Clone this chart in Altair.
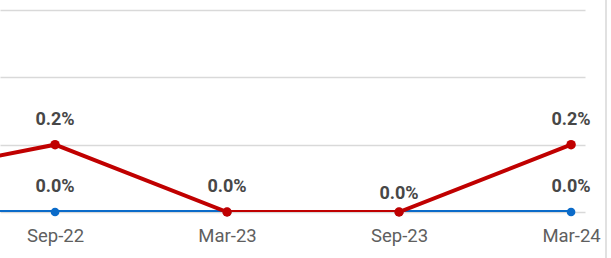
import altair as alt
import pandas as pd

periods = ["Mar-22", "Sep-22", "Mar-23", "Sep-23", "Mar-24"]
red_values = [0.1, 0.2, 0.0, 0.0, 0.2]
blue_values = [0.0, 0.0, 0.0, 0.0, 0.0]

RED = "#c00000"
BLUE = "#0b6bc9"

rows = []
for i, p in enumerate(periods):
    rows.append({"idx": i, "period": p, "series": "blue", "value": blue_values[i]})
for i, p in enumerate(periods):
    rows.append({"idx": i, "period": p, "series": "red", "value": red_values[i]})
df = pd.DataFrame(rows)
df["label"] = df["value"].map(lambda v: f"{v:.1f}%")

label_array = "[" + ",".join(f"'{p}'" for p in periods) + "]"

x = alt.X(
    "idx:Q",
    scale=alt.Scale(domain=[0.68, 4.081], nice=False, zero=False),
    axis=alt.Axis(
        values=[1, 2, 3, 4],
        labelExpr=f"{label_array}[datum.value]",
        title=None, grid=False, ticks=False, domain=False,
        labelFont="Roboto", labelFontSize=18.5, labelColor="#5f5f5f",
        labelPadding=14,
    ),
)
y = alt.Y(
    "value:Q",
    scale=alt.Scale(domain=[0, 0.6], nice=False),
    axis=alt.Axis(
        values=[0, 0.2, 0.4, 0.6], labels=False, ticks=False, domain=False,
        title=None, grid=True, gridColor="#d9d9d9", gridWidth=1.3,
    ),
)

base = alt.Chart(df)

blue_line = base.transform_filter("datum.series == 'blue'").mark_line(
    color=BLUE, strokeWidth=4, clip=True
).encode(x=x, y=y)
blue_pts = base.transform_filter("datum.series == 'blue'").mark_circle(
    color=BLUE, size=75, opacity=1
).encode(x=x, y=y)
red_line = base.transform_filter("datum.series == 'red'").mark_line(
    color=RED, strokeWidth=4, clip=True
).encode(x=x, y=y)
red_pts = base.transform_filter("datum.series == 'red'").mark_circle(
    color=RED, size=90, opacity=1
).encode(x=x, y=y)

text_main = base.transform_filter(
    "datum.idx > 0 && !(datum.series == 'red' && datum.period == 'Mar-23') && datum.period != 'Sep-23'"
).mark_text(
    font="Roboto", fontSize=18, fontWeight="bold", color="#474747", dy=-25
).encode(x=x, y=y, text="label:N")
text_low = base.transform_filter(
    "datum.series == 'red' && datum.period == 'Sep-23'"
).mark_text(
    font="Roboto", fontSize=18, fontWeight="bold", color="#474747", dy=-18
).encode(x=x, y=y, text="label:N")

edge = alt.Chart(pd.DataFrame({"k": [0]})).mark_rule(
    color="#e1e1e1", strokeWidth=2, clip=False
).encode(x=alt.value(606), y=alt.value(-10), y2=alt.value(248))

chart = alt.layer(
    blue_line, red_line, blue_pts, red_pts, text_main, text_low, edge
).properties(
    width=585, height=202,
    padding={"left": 0, "top": 10, "right": 26, "bottom": 46},
    autosize=alt.AutoSizeParams(type="none"),
    background="white",
).configure_view(stroke="transparent", strokeWidth=0)

chart.save("out.html", embed_options={"renderer": "svg", "actions": False})
